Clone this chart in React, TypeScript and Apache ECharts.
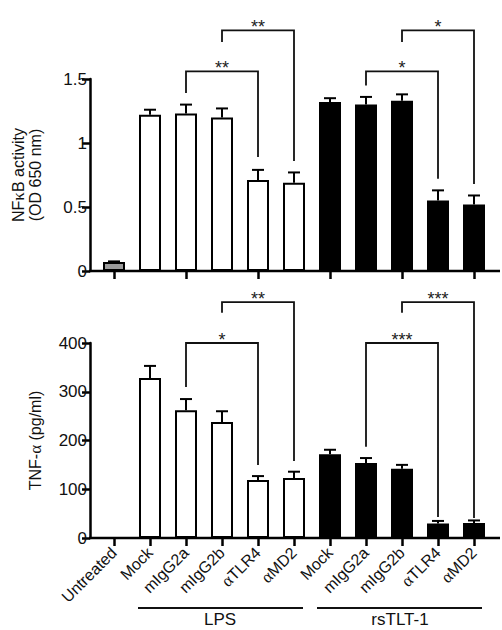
import React, { useEffect, useRef } from 'react';
import * as echarts from 'echarts';

const FONT = '"Liberation Sans", Arial, sans-serif';
const SERIF = '"Liberation Serif", "DejaVu Serif", serif';
const INK = '#111';

const categories = ['Untreated', 'Mock', 'mIgG2a', 'mIgG2b', 'αTLR4', 'αMD2', 'Mock', 'mIgG2a', 'mIgG2b', 'αTLR4', 'αMD2'];
const barFills = ['#9c9c9c', '#ffffff', '#ffffff', '#ffffff', '#ffffff', '#ffffff', '#000000', '#000000', '#000000', '#000000', '#000000'];

const nfkbValues = [0.07, 1.22, 1.23, 1.2, 0.71, 0.69, 1.32, 1.3, 1.33, 0.55, 0.52];
const nfkbErrors = [0.005, 0.04, 0.07, 0.07, 0.08, 0.08, 0.03, 0.06, 0.05, 0.08, 0.07];

const tnfValues = [null, 328, 262, 238, 119, 123, 172, 154, 142, 30, 31];
const tnfErrors = [null, 25, 23, 22, 8, 13, 9, 10, 8, 5, 5];

// [from, to, bar height, left leg end, right leg end]
const nfkbBrackets = [[2, 4, 1.56, 1.39, 0.89], [3, 5, 1.88, 1.79, 0.86], [7, 9, 1.56, 1.45, 0.72], [8, 10, 1.88, 1.79, 0.68]];
const nfkbStars = ['**', '**', '*', '*'];
const tnfBrackets = [[2, 4, 400, 310, 150], [3, 5, 484, 462, 158], [7, 9, 400, 187, 43], [8, 10, 484, 462, 41]];
const tnfStars = ['*', '**', '***', '***'];

const groupLabels = ['LPS', 'rsTLT-1'];

const withAlpha = (s: string) => s.replace('α', '{g|α}');

const errorData = (vals: (number | null)[], errs: (number | null)[]) =>
  vals.map((v, i) => [i, v, errs[i]]).filter(d => d[1] != null);

const renderError = (_: any, api: any) => {
  const i = api.value(0), v = api.value(1), e = api.value(2);
  const p0 = api.coord([i, v]);
  const p1 = api.coord([i, v + e]);
  return {
    type: 'group',
    children: [
      { type: 'line', shape: { x1: p0[0], y1: p0[1], x2: p1[0], y2: p1[1] }, style: { stroke: '#000', lineWidth: 2 } },
      { type: 'line', shape: { x1: p1[0] - 6, y1: p1[1], x2: p1[0] + 6, y2: p1[1] }, style: { stroke: '#000', lineWidth: 2 } },
    ],
  };
};

const renderBracket = (stars: string[]) => (params: any, api: any) => {
  const a = api.value(0), b = api.value(1), top = api.value(2), l = api.value(3), r = api.value(4);
  const pl = api.coord([a, l]);
  const plt = api.coord([a, top]);
  const prt = api.coord([b, top]);
  const pr = api.coord([b, r]);
  return {
    type: 'group',
    children: [
      { type: 'polyline', shape: { points: [pl, plt, prt, pr] }, style: { stroke: INK, lineWidth: 1.8, fill: null } },
      {
        type: 'text', x: (plt[0] + prt[0]) / 2, y: plt[1] - 3,
        style: { text: stars[params.dataIndex], fontSize: 18, fontFamily: FONT, fill: '#222', align: 'center', verticalAlign: 'middle' },
      },
    ],
  };
};

const barData = (vals: (number | null)[]) =>
  vals.map((v, i) => ({ value: v == null ? '-' : v, itemStyle: { color: barFills[i] } }));

export default function App() {
  const ref = useRef<HTMLDivElement>(null);

  useEffect(() => {
    if (!ref.current) return;
    const chart = echarts.init(ref.current, null, { renderer: 'svg' });

    const xAxisBase = {
      type: 'category',
      data: categories,
      axisLine: { show: false },
      axisTick: { show: true, alignWithLabel: true, length: 8, lineStyle: { color: '#000', width: 2.5 } },
    };
    const yAxisBase = {
      type: 'value',
      min: 0,
      offset: 6,
      splitLine: { show: false },
      axisLine: { show: true, lineStyle: { color: '#000', width: 2.5 } },
      axisTick: { show: true, length: 8, lineStyle: { color: '#000', width: 2.5 } },
      axisLabel: { fontSize: 17, fontFamily: FONT, color: INK, margin: 3 },
      nameLocation: 'middle',
      nameRotate: 90,
      nameGap: 46,
    };

    chart.setOption({
      animation: false,
      backgroundColor: '#fff',
      grid: [
        { left: 96, right: 10, top: 79, height: 192 },
        { left: 96, right: 10, top: 343, height: 195 },
      ],
      xAxis: [
        { ...xAxisBase, gridIndex: 0, axisLabel: { show: false } },
        {
          ...xAxisBase, gridIndex: 1,
          axisLabel: {
            rotate: 45, margin: 12, fontSize: 16, fontFamily: FONT, color: INK,
            formatter: (s: string) => withAlpha(s),
            rich: { g: { fontFamily: SERIF, fontSize: 17, color: INK } },
          },
        },
      ],
      yAxis: [
        {
          ...yAxisBase, gridIndex: 0, max: 1.5, interval: 0.5,
          name: '{n|NF}{g|κ}{n|B activity}\n{n|(OD 650 nm)}',
          nameTextStyle: {
            fontSize: 16, fontFamily: FONT, color: INK, lineHeight: 17,
            rich: { n: { fontSize: 16, fontFamily: FONT, color: INK, lineHeight: 17 }, g: { fontSize: 17, fontFamily: SERIF, color: INK, lineHeight: 17 } },
          },
        },
        {
          ...yAxisBase, gridIndex: 1, max: 400, interval: 100,
          name: '{n|TNF-}{g|α}{n| (pg/ml)}',
          nameTextStyle: {
            fontSize: 16, fontFamily: FONT, color: INK,
            rich: { n: { fontSize: 16, fontFamily: FONT, color: INK }, g: { fontSize: 17, fontFamily: SERIF, color: INK } },
          },
        },
      ],
      graphic: [
        { type: 'line', shape: { x1: 89, y1: 271, x2: 500, y2: 271 }, style: { stroke: '#000', lineWidth: 2.5 }, z: 10 },
        { type: 'line', shape: { x1: 89, y1: 538, x2: 500, y2: 538 }, style: { stroke: '#000', lineWidth: 2.5 }, z: 10 },
        { type: 'line', shape: { x1: 138, y1: 608, x2: 303, y2: 608 }, style: { stroke: INK, lineWidth: 1.8 } },
        { type: 'line', shape: { x1: 317, y1: 608, x2: 482, y2: 608 }, style: { stroke: INK, lineWidth: 1.8 } },
        { type: 'text', x: 220, y: 619, style: { text: groupLabels[0], fontSize: 17, fontFamily: FONT, fill: INK, align: 'center', verticalAlign: 'middle' } },
        { type: 'text', x: 400, y: 619, style: { text: groupLabels[1], fontSize: 17, fontFamily: FONT, fill: INK, align: 'center', verticalAlign: 'middle' } },
      ],
      series: [
        {
          type: 'bar', xAxisIndex: 0, yAxisIndex: 0, barWidth: 22,
          itemStyle: { borderColor: '#000', borderWidth: 2 },
          data: barData(nfkbValues),
        },
        {
          type: 'custom', xAxisIndex: 0, yAxisIndex: 0, renderItem: renderError,
          data: errorData(nfkbValues, nfkbErrors), z: 3, silent: true,
        },
        {
          type: 'custom', xAxisIndex: 0, yAxisIndex: 0, renderItem: renderBracket(nfkbStars),
          data: nfkbBrackets, z: 4, silent: true, clip: false,
        },
        {
          type: 'bar', xAxisIndex: 1, yAxisIndex: 1, barWidth: 22,
          itemStyle: { borderColor: '#000', borderWidth: 2 },
          data: barData(tnfValues),
        },
        {
          type: 'custom', xAxisIndex: 1, yAxisIndex: 1, renderItem: renderError,
          data: errorData(tnfValues, tnfErrors), z: 3, silent: true,
        },
        {
          type: 'custom', xAxisIndex: 1, yAxisIndex: 1, renderItem: renderBracket(tnfStars),
          data: tnfBrackets, z: 4, silent: true, clip: false,
        },
      ],
    });

    return () => chart.dispose();
  }, []);

  return <div ref={ref} style={{ position: 'fixed', left: 0, top: 0, width: 502, height: 630, background: '#fff' }} />;
}
